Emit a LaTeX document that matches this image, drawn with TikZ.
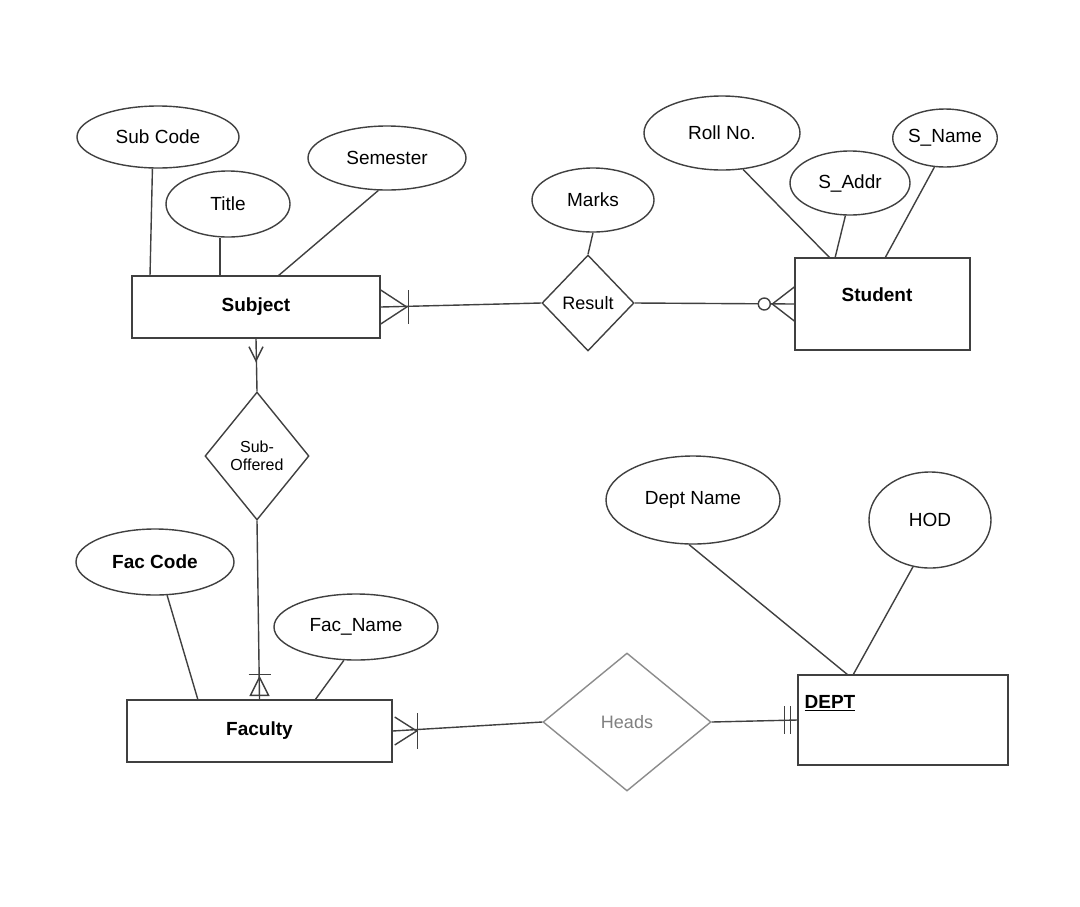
\documentclass[tikz,border=0pt]{standalone}
\usepackage{fontspec}
\setmainfont{Liberation Sans}
\usetikzlibrary{shapes.geometric,calc}
\begin{document}
\begin{tikzpicture}[x=1pt,y=-1pt,line width=1.4pt,draw=black!75,
 ent/.style={draw=black!75,rectangle,inner sep=0pt,font=\fontsize{19}{21}\selectfont\bfseries},
 attr/.style={draw=black!75,ellipse,inner sep=0pt,font=\fontsize{19}{21}\selectfont},
 rel/.style={draw=black!75,diamond,inner sep=0pt,font=\fontsize{18}{20}\selectfont},
 ln/.style={draw=black!75,line width=1.4pt}]
\path[use as bounding box,fill=white] (0,0) rectangle (1080,906);
% entities
\node[ent,minimum width=248pt,minimum height=62pt] (subj) at (256,307) {Subject};
\node[ent,minimum width=175pt,minimum height=92pt] (stud) at (882.5,304) {};
\node[font=\fontsize{19}{21}\selectfont\bfseries] (studt) at (877,295) {Student};
\node[ent,minimum width=265pt,minimum height=62pt] (fac) at (259.5,731) {Faculty};
\node[ent,minimum width=210pt,minimum height=90pt] (dept) at (903,720) {};
\node[font=\fontsize{19}{21}\selectfont\bfseries] (deptt) at (830,703) {\underline{DEPT}};
% relationships
\node[rel,minimum width=92pt,minimum height=96pt] (res) at (588,303) {Result};
\node[rel,minimum width=104pt,minimum height=128pt,align=center,font=\fontsize{16}{18}\selectfont] (sub) at (257,456) {Sub-\\Offered};
\node[rel,draw=black!45,text=black!50,minimum width=168pt,minimum height=138pt] (heads) at (627,722) {Heads};
% attributes
\node[attr,minimum width=162pt,minimum height=62pt] (sc) at (158,137) {Sub Code};
\node[attr,minimum width=124pt,minimum height=66pt] (ti) at (228,204) {Title};
\node[attr,minimum width=158pt,minimum height=64pt] (se) at (387,158) {Semester};
\node[attr,minimum width=122pt,minimum height=64pt] (ma) at (593,200) {Marks};
\node[attr,minimum width=156pt,minimum height=74pt] (rn) at (722,133) {Roll No.};
\node[attr,minimum width=120pt,minimum height=64pt] (sa) at (850,183) {S\_Addr};
\node[attr,minimum width=104pt,minimum height=58pt] (sn) at (945,138) {S\_Name};
\node[attr,minimum width=174pt,minimum height=88pt] (dn) at (693,500) {Dept Name};
\node[attr,minimum width=122pt,minimum height=96pt] (hod) at (930,520) {HOD};
\node[attr,minimum width=158pt,minimum height=66pt,font=\fontsize{19}{21}\selectfont\bfseries] (fc) at (155,562) {Fac Code};
\node[attr,minimum width=164pt,minimum height=66pt] (fn) at (356,627) {Fac\_Name};
% attribute lines
\draw[ln] (sc.260) -- (150,276);
\draw[ln] (ti.south) ++(-8,0) -- (220,276);
\draw[ln] (se.255) -- (278,276);
\draw[ln] (ma.south) -- (res.north);
\draw[ln] (rn.300) -- (830,258);
\draw[ln] (sa.262) -- (835,258);
\draw[ln] (sn.250) -- (885,258);
\draw[ln] (dn.265) -- (848,675);
\draw[ln] (hod.250) -- (853,675);
\draw[ln] (fc.290) -- (198,700);
\draw[ln] (fn.250) -- (315,700);
% relationship lines
\draw[ln] (subj.east) -- (res.west);
\draw[ln] (res.east) -- (stud.west);
\draw[ln] (subj.south) -- (sub.north);
\draw[ln] (sub.south) -- (fac.north);
\draw[ln] (fac.east) -- (heads.west);
\draw[ln] (heads.east) -- (dept.west);
% cardinality marks
\coordinate (a1) at (subj.east);
\draw[ln] ($(a1)+(0,-17)$) -- ($(a1)+(26,0)$) -- ($(a1)+(0,17)$);
\draw[ln] ($(a1)+(28,-17)$) -- ($(a1)+(28,17)$);
\coordinate (a2) at (stud.west);
\draw[ln] ($(a2)+(0,-17)$) -- ($(a2)+(-22,0)$) -- ($(a2)+(0,17)$);
\draw[ln,fill=white] ($(a2)+(-30,0)$) circle (6);
\coordinate (a3) at (subj.south);
\draw[ln] ($(a3)+(-7,8)$) -- ($(a3)+(0,22)$) -- ($(a3)+(7,8)$);
\coordinate (a4) at (fac.north);
\draw[ln] ($(a4)+(-9,-4)$) -- ($(a4)+(0,-22)$) -- ($(a4)+(9,-4)$) -- cycle;
\draw[ln] ($(a4)+(-11,-25)$) -- ($(a4)+(11,-25)$);
\coordinate (a5) at (fac.east);
\draw[ln] ($(a5)+(2,-14)$) -- ($(a5)+(24,0)$) -- ($(a5)+(2,14)$);
\draw[ln] ($(a5)+(25,-18)$) -- ($(a5)+(25,18)$);
\coordinate (a6) at (dept.west);
\draw[ln] ($(a6)+(-13,-14)$) -- ($(a6)+(-13,14)$);
\draw[ln] ($(a6)+(-7,-14)$) -- ($(a6)+(-7,14)$);
\end{tikzpicture}
\end{document}
